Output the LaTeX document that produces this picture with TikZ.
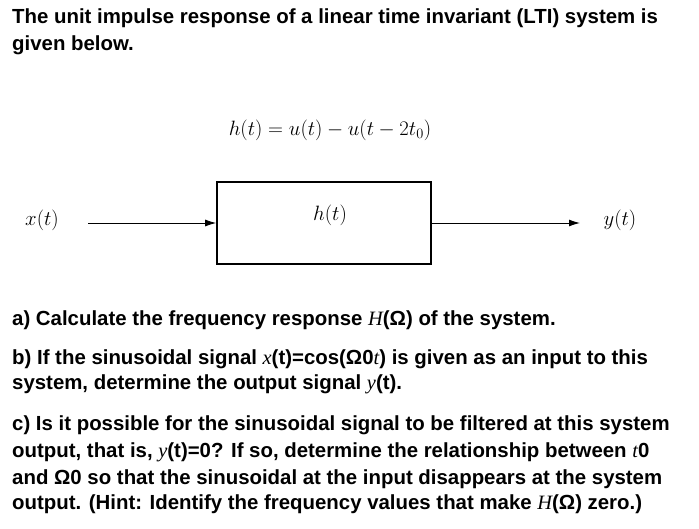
\documentclass[tikz,border=0pt]{standalone}
\usetikzlibrary{arrows.meta}
\usepackage{fontspec}
\setmainfont{Liberation Sans}
\newfontfamily\srf{Liberation Serif}
\newcommand{\mi}[1]{{\srf\itshape\mdseries #1}}
\begin{document}
\begin{tikzpicture}[x=1pt,y=-1pt,
  txt/.style={anchor=base west,inner sep=0pt,font=\bfseries\fontsize{20.4}{24}\selectfont},
  lbl/.style={inner sep=0pt,font=\fontsize{20}{24}\selectfont},
  arr/.style={-{Latex[length=11pt,width=7pt]},line width=0.9pt}]
\useasboundingbox (0,0) rectangle (699,529);
\node[txt] (t1) at (12,24) {The unit impulse response of a linear time invariant (LTI) system is};
\node[txt] (t2) at (12,51) {given below.};
\node[lbl] (eq) at (330,130) {$h(t)=u(t)-u(t-2t_0)$};
\node[draw,line width=1.6pt,minimum width=214pt,minimum height=82pt] (box) at (324,223) {};
\node[lbl] (h) at (330,215) {$h(t)$};
\node[lbl] (x) at (42,220) {$x(t)$};
\node[lbl] (y) at (620,220) {$y(t)$};
\coordinate (xs) at (88,223);
\coordinate (ye) at (580,223);
\draw[arr] (xs) -- (box.west);
\draw[arr] (box.east) -- (ye);
\node[txt] (a) at (12,326) {a) Calculate the frequency response \mi{H}(Ω) of the system.};
\node[txt] (b1) at (12,364) {b) If the sinusoidal signal \mi{x}(t)=cos(Ω0\mi{t}) is given as an input to this};
\node[txt] (b2) at (12,389) {system, determine the output signal \mi{y}(t).};
\node[txt] (c1) at (12,430) {c) Is it possible for the sinusoidal signal to be filtered at this system};
\node[txt] (c2) at (12,457) {output, that is, \mi{y}(t)=0? If so, determine the relationship between \mi{t}0};
\node[txt] (c3) at (12,484) {and Ω0 so that the sinusoidal at the input disappears at the system};
\node[txt] (c4) at (12,509) {output. (Hint: Identify the frequency values that make \mi{H}(Ω) zero.)};
\end{tikzpicture}
\end{document}
